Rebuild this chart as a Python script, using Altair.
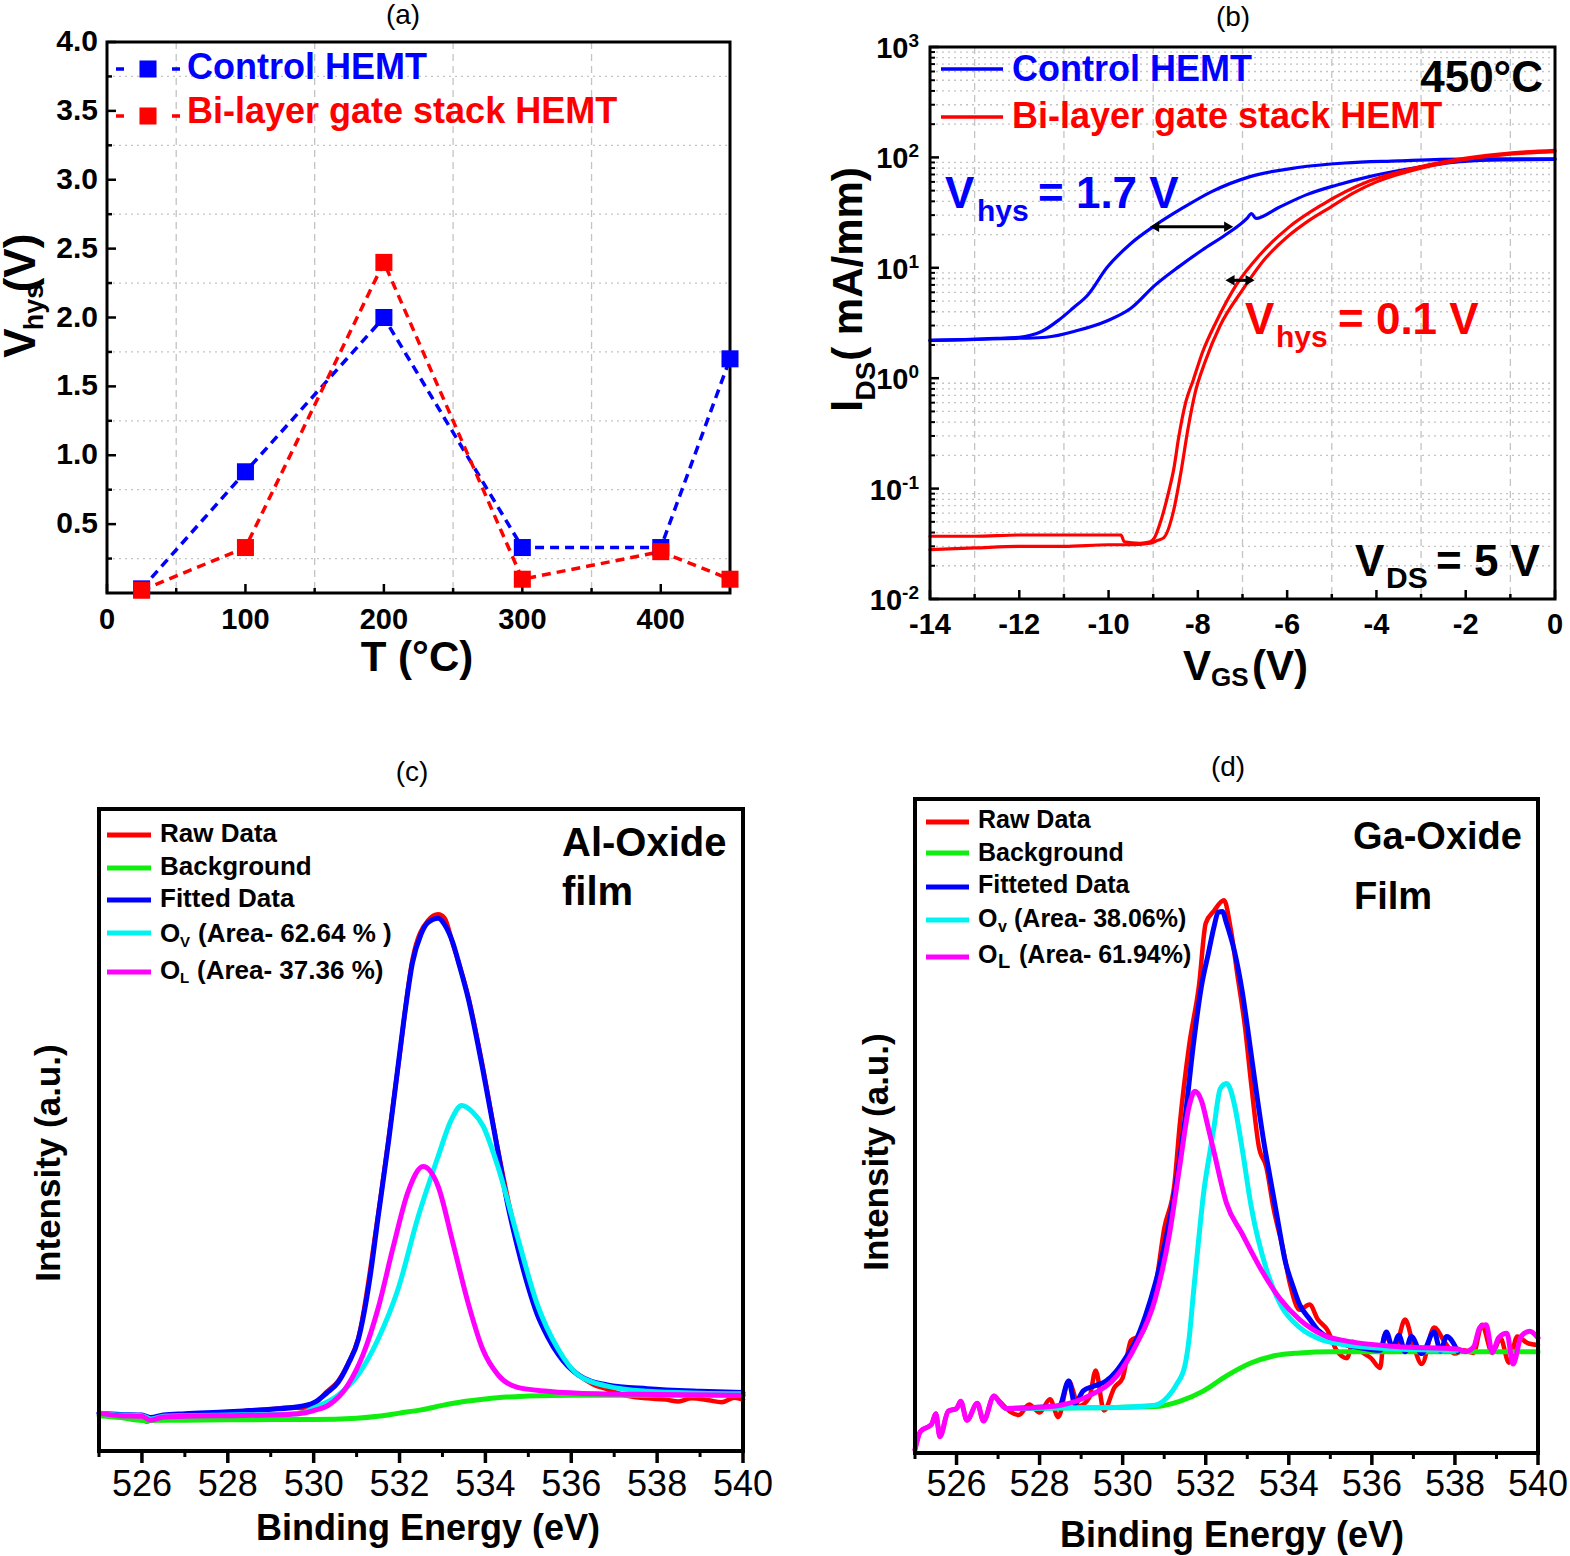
import altair as alt
import pandas as pd

FONT = "Liberation Sans"
BLUE = "#0000ff"
RED = "#ff0000"
GREEN = "#10ee10"
CYAN = "#00f2f2"
MAGENTA = "#ff00ff"
GRID = "#c4c4c4"
DUMMY = pd.DataFrame({"d": [0]})

# ---------------- data: panel (a) ----------------
temps = [25, 100, 200, 300, 400, 450]
ctrl_vhys = [0.03, 0.88, 2.00, 0.33, 0.33, 1.70]
bilayer_vhys = [0.02, 0.33, 2.40, 0.10, 0.30, 0.10]
a_xticks = [0, 100, 200, 300, 400]
a_xlabels = ["0", "100", "200", "300", "400"]
a_xminor = [50, 150, 250, 350]
a_yticks = [0.5, 1.0, 1.5, 2.0, 2.5, 3.0, 3.5, 4.0]
a_ylabels = ["0.5", "1.0", "1.5", "2.0", "2.5", "3.0", "3.5", "4.0"]
a_yminor = [0.25, 0.75, 1.25, 1.75, 2.25, 2.75, 3.25, 3.75]

# ---------------- data: panel (b) ----------------
ctrl_fwd_vgs = [-14, -13, -12.5, -12, -11.75, -11.5, -11.1, -10.8, -10.46, -10.04, -9.5, -8.97, -8.33, -7.69, -6.83, -5.76, -4.7, -3.5, -2.56, -1.5, 0]
ctrl_fwd_ids = [2.2, 2.25, 2.3, 2.35, 2.45, 2.65, 3.4, 4.3, 5.7, 10, 16.6, 24, 35, 49, 67, 81, 89, 93, 96, 97, 97]
ctrl_rev_vgs = [-14, -13, -12, -11.4, -10.7, -10.04, -9.5, -8.97, -8.43, -7.9, -7.37, -6.9, -6.8, -6.7, -6.2, -5.56, -4.9, -4.16, -3.1, -2.03, -1, 0]
ctrl_rev_ids = [2.2, 2.25, 2.3, 2.35, 2.7, 3.3, 4.3, 6.9, 10.2, 14.5, 20, 28, 31, 28, 35, 46, 56, 67, 81, 92, 95, 96]
bi_fwd_vgs = [-14, -13, -12, -11, -10, -9.72, -9.65, -9.3, -9.07, -8.97, -8.81, -8.65, -8.54, -8.43, -8.27, -8.1, -7.9, -7.58, -7.15, -6.62, -5.98, -5.23, -4.16, -3.1, -2.03, -0.96, 0]
bi_fwd_ids = [0.037, 0.037, 0.038, 0.038, 0.038, 0.038, 0.033, 0.032, 0.033, 0.036, 0.054, 0.095, 0.15, 0.29, 0.61, 0.97, 1.7, 3.3, 6.9, 13, 23, 37, 61, 81, 98, 110, 116]
bi_rev_vgs = [-14, -13, -12, -11, -10, -9.5, -9.07, -8.9, -8.76, -8.54, -8.38, -8.22, -8.06, -7.84, -7.5, -7.0, -6.5, -6.0, -5.5, -5.0, -4.5, -4.0, -3.0, -2.0, -1.0, 0]
bi_rev_ids = [0.028, 0.029, 0.030, 0.030, 0.031, 0.031, 0.032, 0.034, 0.036, 0.064, 0.14, 0.35, 0.74, 1.4, 3.0, 6.3, 12, 19, 27, 36, 48, 60, 80, 96, 107, 113]
arrow_vgs_start = [-8.97, -7.28]
arrow_vgs_end = [-7.31, -6.83]
arrow_ids = [23.5, 7.7]
b_xticks = [-14, -12, -10, -8, -6, -4, -2, 0]
b_xlabels = ["-14", "-12", "-10", "-8", "-6", "-4", "-2", "0"]
b_xminor = [-13, -11, -9, -7, -5, -3, -1]
b_yticks_neg = [0.01, 0.1]
b_yexp_neg = ["-2", "-1"]
b_yticks_pos = [1, 10, 100, 1000]
b_yexp_pos = ["0", "1", "2", "3"]
b_yticks = b_yticks_neg + b_yticks_pos
b_yminor = [k * d for d in [0.01, 0.1, 1, 10, 100] for k in [2, 3, 4, 5, 6, 7, 8, 9]]

# ---------------- data: panel (c) ----------------
c_raw_x = [525, 525.3, 525.6, 525.9, 526.1, 526.3, 526.6, 526.8, 527.0, 527.5, 528.0, 528.5, 529.0, 529.5, 529.8, 530.0, 530.3, 530.57, 530.8, 531.04, 531.5, 531.97, 532.3, 532.66, 532.9, 533.05, 533.24, 533.6, 533.94, 534.29, 534.75, 535.2, 535.7, 536.15, 536.5, 536.84, 537.3, 537.77, 538.2, 538.5, 538.8, 539.2, 539.5, 539.8, 540]
c_raw_y = [5.9, 5.6, 5.5, 5.3, 4.6, 5.0, 5.2, 4.9, 5.3, 5.6, 5.9, 6.3, 6.5, 6.8, 6.6, 7.2, 9.2, 10.9, 13.6, 17.6, 36.8, 60.0, 76.5, 82.6, 83.6, 83.0, 79.0, 70.8, 59.8, 47.0, 32.5, 22.0, 15.2, 12.0, 10.4, 9.6, 8.6, 8.2, 8.0, 7.7, 8.2, 7.9, 7.6, 8.3, 8.0]
c_fit_x = [525, 525.5, 526, 526.2, 526.5, 527, 528, 528.5, 529, 529.64, 530, 530.3, 530.57, 530.8, 531.04, 531.3, 531.5, 531.75, 531.97, 532.15, 532.3, 532.5, 532.66, 532.9, 533.05, 533.24, 533.4, 533.6, 533.94, 534.29, 534.5, 534.75, 535.0, 535.2, 535.45, 535.7, 536.15, 536.84, 537.77, 539, 540]
c_fit_y = [5.9, 5.7, 5.6, 5.2, 5.6, 5.8, 6.1, 6.3, 6.5, 6.9, 7.5, 9.0, 10.7, 13.5, 17.4, 26.5, 36.4, 48.5, 60.2, 69.5, 76.0, 80.5, 82.3, 83.0, 82.0, 79.2, 75.5, 70.5, 59.4, 46.7, 39.0, 31.7, 25.5, 21.4, 17.8, 15.0, 11.9, 10.3, 9.7, 9.3, 9.1]
c_ov_x = [525, 525.5, 526, 526.2, 526.5, 527, 528, 529, 529.64, 530, 530.57, 531.04, 531.5, 531.97, 532.43, 532.9, 533.2, 533.45, 533.7, 533.94, 534.29, 534.75, 535.2, 535.7, 536.15, 536.84, 537.77, 539, 540]
c_ov_y = [5.9, 5.6, 5.5, 5.0, 5.4, 5.5, 5.6, 5.7, 5.8, 6.7, 8.7, 11.9, 17.4, 25.3, 36.4, 45.9, 51.5, 53.8, 52.8, 50.7, 44.3, 33.3, 23.0, 15.8, 11.9, 10.1, 9.3, 9.0, 8.9]
c_ol_x = [525, 525.5, 526, 526.2, 526.5, 527, 528, 529, 529.64, 530.0, 530.34, 530.8, 531.15, 531.5, 531.85, 532.2, 532.55, 532.9, 533.24, 533.6, 533.94, 534.29, 534.75, 535.45, 536.6, 538, 540]
c_ol_y = [5.9, 5.5, 5.4, 4.8, 5.3, 5.4, 5.5, 5.6, 5.8, 6.3, 7.1, 10.3, 15.0, 22.2, 31.7, 40.4, 44.3, 41.2, 32.5, 23.0, 15.8, 11.9, 9.9, 9.3, 8.9, 8.8, 8.7]
c_bg_x = [525, 525.5, 526, 527, 528, 529, 530, 531, 531.5, 532, 532.5, 533, 533.5, 534, 534.5, 535, 536, 537, 538, 540]
c_bg_y = [5.5, 5.2, 4.75, 4.8, 4.85, 4.9, 4.9, 5.1, 5.4, 5.9, 6.4, 7.1, 7.7, 8.1, 8.4, 8.55, 8.7, 8.7, 8.7, 8.7]

# ---------------- data: panel (d) ----------------
d_raw_x = [525.0, 525.13, 525.4, 525.5, 525.6, 525.8, 526.0, 526.1, 526.25, 526.5, 526.65, 526.9, 527.05, 527.3, 527.5, 527.75, 528.0, 528.25, 528.45, 528.7, 528.95, 529.2, 529.35, 529.55, 529.8, 530.0, 530.2, 530.43, 530.67, 530.8, 531.0, 531.25, 531.37, 531.6, 531.84, 532.0, 532.2, 532.44, 532.6, 532.76, 532.94, 533.1, 533.28, 533.46, 533.63, 533.86, 534.03, 534.26, 534.5, 534.7, 534.93, 535.15, 535.4, 535.55, 535.75, 535.98, 536.2, 536.3, 536.55, 536.8, 537.0, 537.2, 537.5, 537.75, 538.0, 538.2, 538.45, 538.65, 538.9, 539.1, 539.3, 539.5, 539.75, 540.0]
d_raw_y = [0.5, 3.3, 4.4, 6.0, 2.5, 6.4, 6.8, 7.9, 5.0, 7.6, 4.9, 8.7, 7.8, 6.3, 5.8, 7.4, 6.2, 8.2, 5.5, 11.0, 7.2, 8.5, 12.6, 6.5, 10.0, 11.5, 17.2, 18.0, 21.9, 25.8, 34.3, 41.3, 49.9, 62.3, 71.6, 81.0, 82.9, 84.5, 80.2, 73.2, 65.4, 56.1, 46.8, 43.7, 37.5, 31.2, 25.8, 21.9, 22.7, 20.4, 18.8, 15.7, 14.5, 17.0, 15.5, 14.5, 13.0, 18.0, 16.0, 20.4, 16.5, 13.6, 19.2, 17.0, 15.2, 15.7, 15.3, 19.6, 15.3, 17.5, 13.8, 17.8, 16.8, 16.5]
d_fit_x = [527.2, 527.6, 528.0, 528.47, 528.7, 528.85, 529.05, 529.3, 529.6, 529.86, 530.1, 530.32, 530.55, 530.78, 531.0, 531.25, 531.5, 531.7, 531.9, 532.06, 532.2, 532.3, 532.4, 532.5, 532.7, 532.87, 533.05, 533.2, 533.4, 533.55, 533.75, 533.9, 534.1, 534.26, 534.5, 534.7, 535.0, 535.4, 535.8, 536.2, 536.35, 536.5, 536.65, 536.8, 536.95, 537.2, 537.5, 537.65, 537.8, 538.07]
d_fit_y = [6.8, 6.9, 7.0, 7.1, 11.0, 7.5, 9.5, 10.2, 11.0, 12.6, 14.8, 17.2, 21.0, 25.8, 31.5, 39.8, 51.0, 62.3, 71.5, 76.3, 80.5, 82.7, 82.8, 81.0, 76.5, 70.9, 63.0, 56.1, 47.5, 42.1, 35.0, 29.7, 25.5, 22.7, 20.5, 18.8, 17.5, 16.5, 16.0, 15.7, 18.5, 16.0, 18.0, 15.5, 17.8, 15.2, 18.5, 15.6, 17.8, 15.5]
d_ov_x = [527.2, 529.0, 530.0, 530.78, 531.1, 531.3, 531.5, 531.6, 531.7, 531.82, 531.95, 532.1, 532.2, 532.35, 532.5, 532.6, 532.7, 532.87, 533.1, 533.46, 533.8, 534.26, 534.84, 535.4, 536.57, 538.07]
d_ov_y = [6.8, 6.9, 7.0, 7.3, 8.7, 10.5, 13.4, 17.5, 24.2, 32.0, 39.8, 46.0, 49.9, 55.7, 56.5, 55.5, 53.0, 46.8, 37.5, 28.1, 22.7, 19.2, 17.2, 16.5, 15.9, 15.7]
d_ol_x = [525.0, 525.13, 525.4, 525.5, 525.6, 525.8, 526.0, 526.1, 526.25, 526.5, 526.65, 526.9, 527.05, 527.2, 528.0, 528.5, 529.17, 529.86, 530.32, 530.78, 531.13, 531.37, 531.6, 531.74, 531.9, 532.05, 532.2, 532.5, 532.87, 533.33, 533.8, 534.26, 534.84, 535.4, 536.57, 538.07, 538.25, 538.45, 538.6, 538.75, 538.9, 539.05, 539.25, 539.4, 539.6, 539.8, 540.0]
d_ol_y = [0.5, 3.3, 4.4, 6.0, 2.5, 6.4, 6.8, 7.9, 5.0, 7.6, 4.9, 8.7, 7.6, 6.8, 7.0, 7.3, 8.7, 11.8, 16.5, 23.5, 33.6, 43.7, 53.0, 55.3, 53.8, 50.0, 46.0, 38.2, 33.6, 28.1, 23.5, 20.4, 18.0, 17.1, 16.3, 15.9, 15.5, 16.2, 19.2, 19.6, 15.4, 17.6, 18.3, 13.6, 17.9, 18.6, 17.6]
d_bg_x = [527.2, 529.0, 530.78, 531.37, 531.95, 532.5, 533.1, 533.68, 534.26, 535.0, 536.0, 538.0, 540.0]
d_bg_y = [6.8, 6.9, 7.1, 7.9, 9.5, 11.8, 13.8, 14.9, 15.3, 15.5, 15.5, 15.5, 15.5]
xps_major = [526, 528, 530, 532, 534, 536, 538, 540]
xps_labels = ["526", "528", "530", "532", "534", "536", "538", "540"]
xps_minor = [525, 527, 529, 531, 533, 535, 537, 539]


# ---------------- helpers ----------------
def txt(s, x, y, size, color="black", weight="bold", align="left", baseline="alphabetic", angle=0):
    kw = dict(text=s, font=FONT, fontSize=size, fontWeight=weight, color=color,
              align=align, baseline=baseline)
    if angle:
        kw["angle"] = angle
    return alt.Chart(DUMMY).mark_text(**kw).encode(x=alt.value(x), y=alt.value(y))


def hseg(x1, x2, y, color, width, dash=None):
    kw = dict(color=color, strokeWidth=width)
    if dash:
        kw["strokeDash"] = dash
    return alt.Chart(DUMMY).mark_rule(**kw).encode(x=alt.value(x1), x2=alt.value(x2), y=alt.value(y))


def enc_x(scale):
    return lambda f: alt.X(f, type="quantitative", scale=scale, axis=None)


def enc_y(scale):
    return lambda f: alt.Y(f, type="quantitative", scale=scale, axis=None)


def series(xs, ys, X, Y, color, width, dash=None, smooth=False):
    df = pd.DataFrame({"x": xs, "y": ys, "i": list(range(len(xs)))})
    kw = dict(color=color, strokeWidth=width, strokeJoin="round")
    if dash:
        kw["strokeDash"] = dash
    else:
        kw["strokeCap"] = "round"
    if smooth:
        kw["interpolate"] = "monotone"
    return alt.Chart(df).mark_line(**kw).encode(x=X("x"), y=Y("y"), order="i:Q")


def vals(v, labels=None):
    d = {"v": v}
    if labels is not None:
        d["lab"] = labels
    return pd.DataFrame(d)


def frame_rect(L, T, R, B, width):
    return alt.Chart(DUMMY).mark_rect(fillOpacity=0, stroke="black", strokeWidth=width).encode(
        x=alt.value(L), x2=alt.value(R), y=alt.value(T), y2=alt.value(B))


def xlabels(v, labs, X, y, size, weight):
    return alt.Chart(vals(v, labs)).mark_text(font=FONT, fontSize=size, fontWeight=weight, color="black",
                                              align="center", baseline="top").encode(
        x=X("v"), y=alt.value(y), text="lab:N")


# column / row origins of the 2x2 grid (absolute pixels)
COL1, COL2 = 99, 915
ROW1, ROW2 = 42, 799
CW1, CW2 = 644, 640
RH1, RH2 = 557, 654

# ================= panel (a) =================
LA, TA, RA, BA = 107 - COL1, 42 - ROW1, 730 - COL1, 593 - ROW1
sxA = alt.Scale(domain=[0, 450], range=[LA, RA], nice=False, zero=False)
syA = alt.Scale(domain=[0, 4], range=[BA, TA], nice=False, zero=False)
XA = enc_x(sxA)
YA = enc_y(syA)


def ra(x, y):
    return x - COL1, y - ROW1


layersA = [
    alt.Chart(vals(a_xminor)).mark_rule(color=GRID, strokeWidth=1.3, strokeDash=[7, 5]).encode(x=XA("v"), y=alt.value(TA), y2=alt.value(BA)),
    alt.Chart(vals(a_yminor)).mark_rule(color=GRID, strokeWidth=1.3, strokeDash=[2, 4]).encode(y=YA("v"), x=alt.value(LA), x2=alt.value(RA)),
    alt.Chart(vals(a_xticks)).mark_rule(color="black", strokeWidth=2.5).encode(x=XA("v"), y=alt.value(BA), y2=alt.value(BA - 9)),
    alt.Chart(vals(a_xminor)).mark_rule(color="black", strokeWidth=2.5).encode(x=XA("v"), y=alt.value(BA), y2=alt.value(BA - 5)),
    alt.Chart(vals(a_yticks)).mark_rule(color="black", strokeWidth=2.5).encode(y=YA("v"), x=alt.value(LA), x2=alt.value(LA + 9)),
    alt.Chart(vals(a_yminor)).mark_rule(color="black", strokeWidth=2.5).encode(y=YA("v"), x=alt.value(LA), x2=alt.value(LA + 5)),
    series(temps, ctrl_vhys, XA, YA, BLUE, 3.5, dash=[9, 6]),
    series(temps, bilayer_vhys, XA, YA, RED, 3.5, dash=[9, 6]),
    frame_rect(LA, TA, RA, BA, 3),
    alt.Chart(pd.DataFrame({"x": temps, "y": ctrl_vhys})).mark_square(size=290, color=BLUE, opacity=1).encode(x=XA("x"), y=YA("y")),
    alt.Chart(pd.DataFrame({"x": temps, "y": bilayer_vhys})).mark_square(size=290, color=RED, opacity=1).encode(x=XA("x"), y=YA("y")),
    xlabels(a_xticks, a_xlabels, XA, BA + 13, 29, "bold"),
    alt.Chart(vals(a_yticks, a_ylabels)).mark_text(font=FONT, fontSize=30, fontWeight="bold", color="black",
                                                   align="right", baseline="middle").encode(
        y=YA("v"), x=alt.value(LA - 9), text="lab:N"),
]
for (yy, col, lab, base) in [(69, BLUE, "Control HEMT", 79), (116, RED, "Bi-layer gate stack HEMT", 123)]:
    x1, y1 = ra(116, yy)
    x2, _ = ra(180, yy)
    layersA.append(hseg(x1, x2, y1, col, 3.5, dash=[8, 20]))
    sx, sy = ra(148, yy)
    layersA.append(alt.Chart(DUMMY).mark_square(size=290, color=col, opacity=1).encode(x=alt.value(sx), y=alt.value(sy)))
    layersA.append(txt(lab, *ra(187, base), 36, color=col))
layersA += [
    txt("(a)", *ra(403, 16), 28, weight="normal", align="center", baseline="middle"),
    txt("T (°C)", *ra(417, 671), 42, align="center"),
    txt("V", *ra(22, 343), 44, align="center", baseline="middle", angle=270),
    txt("hys", *ra(35, 307), 27, align="center", baseline="middle", angle=270),
    txt("(V)", *ra(22, 263), 44, align="center", baseline="middle", angle=270),
]
panelA = alt.layer(*layersA).properties(width=CW1, height=RH1)

# ================= panel (b) =================
LB, TB, RB, BB = 930 - COL2, 47 - ROW1, 1555 - COL2, 599 - ROW1
sxB = alt.Scale(domain=[-14, 0], range=[LB, RB], nice=False, zero=False)
syB = alt.Scale(type="log", domain=[0.01, 1000], range=[BB, TB], nice=False)
XB = enc_x(sxB)
YB = enc_y(syB)


def rb(x, y):
    return x - COL2, y - ROW1


SUP = 19
W1 = 0.556 * SUP
W2 = 0.889 * SUP
arrows = pd.DataFrame({"x": arrow_vgs_start, "x2": arrow_vgs_end, "y": arrow_ids})


def ylab_b(v, exps, wexp):
    base = alt.Chart(vals(v, exps))
    tens = base.mark_text(text="10", font=FONT, fontSize=29, fontWeight="bold", color="black",
                          align="right", baseline="alphabetic", dy=11).encode(
        y=YB("v"), x=alt.value(LB - 11 - wexp))
    sup = base.mark_text(font=FONT, fontSize=SUP, fontWeight="bold", color="black",
                         align="right", baseline="alphabetic", dy=0).encode(
        y=YB("v"), x=alt.value(LB - 11), text="lab:N")
    return [tens, sup]


layersB = [
    alt.Chart(vals(b_xminor)).mark_rule(color=GRID, strokeWidth=1.3, strokeDash=[7, 5]).encode(x=XB("v"), y=alt.value(TB), y2=alt.value(BB)),
    alt.Chart(vals(b_yminor)).mark_rule(color=GRID, strokeWidth=1.3, strokeDash=[2, 4]).encode(y=YB("v"), x=alt.value(LB), x2=alt.value(RB)),
    alt.Chart(vals(b_xticks)).mark_rule(color="black", strokeWidth=2.5).encode(x=XB("v"), y=alt.value(BB), y2=alt.value(BB - 9)),
    alt.Chart(vals(b_xminor)).mark_rule(color="black", strokeWidth=2.5).encode(x=XB("v"), y=alt.value(BB), y2=alt.value(BB - 5)),
    alt.Chart(vals(b_yticks)).mark_rule(color="black", strokeWidth=2.5).encode(y=YB("v"), x=alt.value(LB), x2=alt.value(LB + 9)),
    alt.Chart(vals(b_yminor)).mark_rule(color="black", strokeWidth=2).encode(y=YB("v"), x=alt.value(LB), x2=alt.value(LB + 5)),
    series(ctrl_fwd_vgs, ctrl_fwd_ids, XB, YB, BLUE, 3.2, smooth=True),
    series(ctrl_rev_vgs, ctrl_rev_ids, XB, YB, BLUE, 3.2, smooth=True),
    series(bi_fwd_vgs, bi_fwd_ids, XB, YB, RED, 3.2, smooth=True),
    series(bi_rev_vgs, bi_rev_ids, XB, YB, RED, 3.2, smooth=True),
    alt.Chart(arrows).mark_rule(color="black", strokeWidth=3).encode(x=XB("x"), x2="x2:Q", y=YB("y")),
    alt.Chart(arrows).mark_point(shape="triangle-left", filled=True, size=110, color="black", opacity=1).encode(x=XB("x"), y=YB("y")),
    alt.Chart(arrows).mark_point(shape="triangle-right", filled=True, size=110, color="black", opacity=1).encode(x=XB("x2"), y=YB("y")),
    frame_rect(LB, TB, RB, BB, 3),
    xlabels(b_xticks, b_xlabels, XB, BB + 12, 29, "bold"),
]
layersB += ylab_b(b_yticks_neg, b_yexp_neg, W2)
layersB += ylab_b(b_yticks_pos, b_yexp_pos, W1)
for (yy, col, lab, base) in [(69, BLUE, "Control HEMT", 81), (117, RED, "Bi-layer gate stack HEMT", 128)]:
    x1, y1 = rb(941, yy)
    x2, _ = rb(1003, yy)
    layersB.append(hseg(x1, x2, y1, col, 3.5))
    layersB.append(txt(lab, *rb(1012, base), 36, color=col))
layersB += [
    txt("450°C", *rb(1543, 92), 44, align="right"),
    txt("V", *rb(945, 208), 44, color=BLUE),
    txt("hys", *rb(977, 221), 30, color=BLUE),
    txt("= 1.7 V", *rb(1038, 208), 44, color=BLUE),
    txt("V", *rb(1245, 334), 44, color=RED),
    txt("hys", *rb(1276, 347), 30, color=RED),
    txt("= 0.1 V", *rb(1338, 334), 44, color=RED),
    txt("V", *rb(1355, 576), 44),
    txt("DS", *rb(1386, 588), 30),
    txt("= 5 V", *rb(1436, 576), 44),
    txt("(b)", *rb(1233, 18), 28, weight="normal", align="center", baseline="middle"),
    txt("V", *rb(1183, 680), 42),
    txt("GS", *rb(1211, 686), 26),
    txt("(V)", *rb(1252, 680), 42),
    txt("I", *rb(849, 406), 44, align="center", baseline="middle", angle=270),
    txt("DS", *rb(867, 381), 28, align="center", baseline="middle", angle=270),
    txt("( mA/mm)", *rb(849, 264), 42, align="center", baseline="middle", angle=270),
]
panelB = alt.layer(*layersB).properties(width=CW2, height=RH1)


# ================= XPS panels =================
def xps_panel(colx, rowy, vw, vh, plot, raw, bg, fit, ov, ol, legend_rows, film, film_size,
              title_pos, xt_pos, yt_pos):
    def r(x, y):
        return x - colx, y - rowy

    L, T, R, B = plot[0] - colx, plot[1] - rowy, plot[2] - colx, plot[3] - rowy
    sx = alt.Scale(domain=[525, 540], range=[L, R], nice=False, zero=False)
    sy = alt.Scale(domain=[0, 100], range=[B, T], nice=False, zero=False)
    X = enc_x(sx)
    Y = enc_y(sy)
    Ls = [
        alt.Chart(vals(xps_major)).mark_rule(color="black", strokeWidth=3.5).encode(x=X("v"), y=alt.value(B), y2=alt.value(B + 12)),
        alt.Chart(vals(xps_minor)).mark_rule(color="black", strokeWidth=3).encode(x=X("v"), y=alt.value(B), y2=alt.value(B + 6)),
        series(raw[0], raw[1], X, Y, RED, 4.5, smooth=True),
        series(bg[0], bg[1], X, Y, GREEN, 5, smooth=True),
        series(fit[0], fit[1], X, Y, BLUE, 5, smooth=True),
        series(ov[0], ov[1], X, Y, CYAN, 5, smooth=True),
        series(ol[0], ol[1], X, Y, MAGENTA, 5, smooth=True),
        frame_rect(L, T, R, B, 4),
        xlabels(xps_major, xps_labels, X, B + xt_pos[2], 36, "normal"),
    ]
    for (lx1, lx2, ly, col, parts) in legend_rows:
        a1, b1 = r(lx1, ly)
        a2, _ = r(lx2, ly)
        Ls.append(hseg(a1, a2, b1, col, 5))
        for (s, px, base, size) in parts:
            Ls.append(txt(s, *r(px, base), size))
    for (s, px, base) in film:
        Ls.append(txt(s, *r(px, base), film_size))
    Ls += [
        txt(title_pos[0], *r(title_pos[1], title_pos[2]), 28, weight="normal", align="center", baseline="middle"),
        txt("Binding Energy (eV)", *r(xt_pos[0], xt_pos[1]), 36, align="center"),
        txt("Intensity (a.u.)", *r(yt_pos[0], yt_pos[1]), 35, align="center", baseline="middle", angle=270),
    ]
    return alt.layer(*Ls).properties(width=vw, height=vh)


legC = [
    (107, 151, 835, RED, [("Raw Data", 160, 842, 26)]),
    (107, 151, 868, GREEN, [("Background", 160, 875, 26)]),
    (107, 151, 900, BLUE, [("Fitted Data", 160, 907, 26)]),
    (107, 151, 933, CYAN, [("O", 160, 942, 26), ("V", 180, 947, 15), ("(Area- 62.64 % )", 198, 942, 26)]),
    (107, 151, 972, MAGENTA, [("O", 160, 979, 26), ("L", 180, 983, 15), ("(Area- 37.36 %)", 197, 979, 26)]),
]
panelC = xps_panel(COL1, ROW2, CW1, RH2, (99, 809, 743, 1451),
                   (c_raw_x, c_raw_y), (c_bg_x, c_bg_y), (c_fit_x, c_fit_y), (c_ov_x, c_ov_y), (c_ol_x, c_ol_y),
                   legC, [("Al-Oxide", 562, 856), ("film", 562, 905)], 40,
                   ("(c)", 412, 773), (428, 1540, 17), (49, 1163))

legD = [
    (926, 969, 822, RED, [("Raw Data", 978, 828, 25)]),
    (926, 969, 853, GREEN, [("Background", 978, 861, 25)]),
    (926, 969, 887, BLUE, [("Fitteted Data", 978, 893, 25)]),
    (926, 969, 920, CYAN, [("O", 978, 927, 25), ("v", 998, 932, 16), ("(Area- 38.06%)", 1014, 927, 25)]),
    (926, 969, 957, MAGENTA, [("O", 978, 963, 25), ("L", 998, 968, 20), ("(Area- 61.94%)", 1019, 963, 25)]),
]
panelD = xps_panel(COL2, ROW2, CW2, RH2, (915, 799, 1538, 1453),
                   (d_raw_x, d_raw_y), (d_bg_x, d_bg_y), (d_fit_x, d_fit_y), (d_ov_x, d_ov_y), (d_ol_x, d_ol_y),
                   legD, [("Ga-Oxide", 1353, 849), ("Film", 1354, 909)], 38,
                   ("(d)", 1228, 768), (1232, 1547, 15), (877, 1152))

# ================= layout =================
chart = alt.concat(
    panelA, panelB, panelC, panelD,
    columns=2,
    spacing={"row": ROW2 - ROW1 - RH1, "column": COL2 - COL1 - CW1},
    bounds="flush",
    align="each",
).properties(
    autosize=alt.AutoSizeParams(type="none"),
    padding={"left": COL1, "top": ROW1, "right": 1570 - COL1, "bottom": 1556 - ROW1},
    background="white",
).configure_view(stroke="transparent")

chart.save("out.html", embed_options={"renderer": "svg", "actions": False})
